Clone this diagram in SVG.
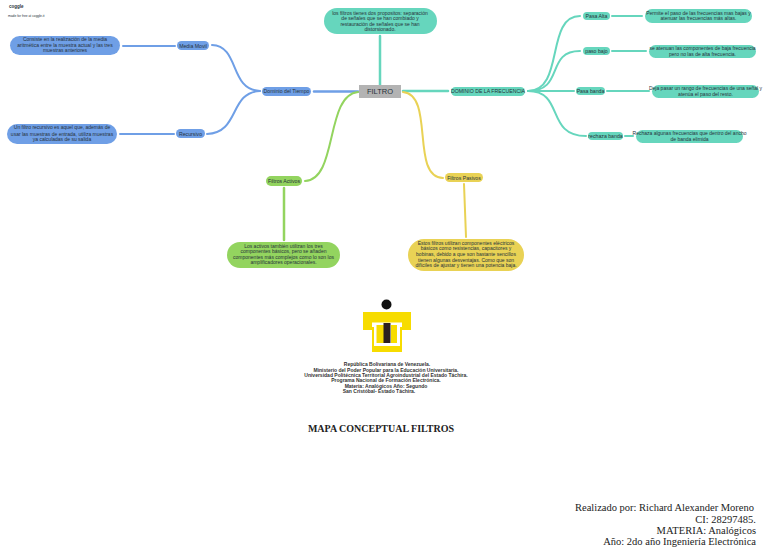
<svg xmlns="http://www.w3.org/2000/svg" width="768" height="560" viewBox="0 0 768 560">
<style>
text{font-family:"Liberation Sans",Arial,sans-serif;font-size:5px;fill:#27323a;text-anchor:middle}
.n{font-size:5.2px}
.bl{fill:#6f9fe6}.gr{fill:#66d6bd}.li{fill:#93d45f}.ye{fill:#e9d255}
.c{fill:none;stroke-linecap:round}
.h{font-size:5px;font-weight:bold;fill:#333}
.s{font-family:"Liberation Serif","Times New Roman",serif;fill:#222}
</style>
<rect width="768" height="560" fill="#fff"/>
<g id="connectors" class="c" stroke-width="2">
<g stroke="#6f9fe6">
<path d="M123 46H175"/><path d="M212 45C240 46 229 90 260 91"/>
<path d="M120 134H174"/><path d="M207 134C240 133 229 92 260 91"/>
<path d="M314 91.500H358" stroke-width="2.500"/>
</g>
<g stroke="#66d6bd">
<path d="M380 36V86" stroke-width="2.500"/>
<path d="M403 91H448" stroke-width="2.500"/>
<path d="M528 91C565 91 545 16 580 16"/>
<path d="M528 91C565 91 545 51 580 51"/>
<path d="M528 91H574"/>
<path d="M528 91C565 91 545 136 586 136"/>
<path d="M612 16H642"/><path d="M612 51H646"/><path d="M607 91H649"/><path d="M625 136H633"/>
</g>
<g stroke="#93d45f">
<path d="M358 92C325 95 338 180 305 181" stroke-width="2"/>
<path d="M284 188V240" stroke-width="2.500"/>
</g>
<g stroke="#e9d255">
<path d="M403 92C435 95 410 177 443 178" stroke-width="2"/>
<path d="M464 184L466 237" stroke-width="2"/>
</g>
</g>
<g id="header"><text x="9" y="8" text-anchor="start" style="text-anchor:start;font-size:4.500px;font-weight:bold">coggle</text><text x="8" y="16.500" style="text-anchor:start;font-size:3.300px">made for free at coggle.it</text></g>
<g id="filtro"><rect x="359" y="85" width="42" height="13" fill="#b3b3b3"/><text x="380" y="93.500" style="font-size:7.500px">FILTRO</text></g>
<g id="intro"><rect class="gr" x="324" y="8" width="113" height="26" rx="13"/><text x="380" y="14.500">los filtros tienes dos propositos: separación</text><text x="380" y="19.800">de señales que se han combiado y</text><text x="380" y="25.500">restauración de señales que se han</text><text x="380" y="30.500">distorsionado.</text></g>
<g id="dominio-tiempo"><rect class="bl" x="262" y="87" width="49" height="9" rx="4.500"/><text class="n" x="286.500" y="93">Dominio del Tiempo</text></g>
<g id="media-movil"><rect class="bl" x="177" y="41" width="32" height="9" rx="4.500"/><text class="n" x="193" y="47.500">Media Movil</text></g>
<g id="media-desc"><rect class="bl" x="10" y="36" width="110" height="19" rx="9.500"/><text x="65" y="41">Consiste en la realización de la media</text><text x="65" y="46.800">aritmética entre la muestra actual y las tres</text><text x="65" y="52">muestras anteriores</text></g>
<g id="recursivo"><rect class="bl" x="176" y="129" width="29" height="9" rx="4.500"/><text class="n" x="190.500" y="135.500">Recursivo</text></g>
<g id="recursivo-desc"><rect class="bl" x="7" y="124" width="110" height="20" rx="10"/><text x="62" y="129">Un filtro recursivo es aquel que, además de</text><text x="62" y="135.500">usar las muestras de entrada, utiliza muestras</text><text x="62" y="141">ya calculadas de su salida</text></g>
<g id="dominio-frecuencia"><rect class="gr" x="451" y="87" width="74" height="9" rx="4.500"/><text class="n" x="488" y="92.800">DOMINIO DE LA FRECUENCIA</text></g>
<g id="pasa-alta"><rect class="gr" x="583" y="12" width="27" height="8" rx="4"/><text class="n" x="596.500" y="18">Pasa Alta</text></g>
<g id="paso-bajo"><rect class="gr" x="583" y="47" width="27" height="8" rx="4"/><text class="n" x="596.500" y="52.800">paso bajo</text></g>
<g id="pasa-banda"><rect class="gr" x="576" y="87" width="29" height="8" rx="4"/><text class="n" x="590.500" y="92.800">Pasa banda</text></g>
<g id="rechaza-banda"><rect class="gr" x="588" y="132" width="35" height="8" rx="4"/><text class="n" x="605.500" y="137.800">rechaza banda</text></g>
<g id="alta-desc"><rect class="gr" x="645" y="9" width="107" height="14" rx="7"/><text x="698.500" y="14.500">Permite el paso de las frecuencias mas bajas y</text><text x="698.500" y="20">atenuar las frecuencias más altas.</text></g>
<g id="bajo-desc"><rect class="gr" x="649" y="45" width="107" height="13" rx="6.500"/><text x="702.500" y="50">se atenuan las componentes de baja frecuencia</text><text x="702.500" y="55.500">pero no las de alta frecuencia.</text></g>
<g id="banda-desc"><rect class="gr" x="652" y="85" width="107" height="13" rx="6.500"/><text x="705.500" y="90">Deja pasar un rango de frecuencias de una señal y</text><text x="705.500" y="95.500">atenúa el paso del resto.</text></g>
<g id="rechaza-desc"><rect class="gr" x="636" y="130" width="107" height="13" rx="6.500"/><text x="689.500" y="135">Rechaza algunas frecuencias que dentro del ancho</text><text x="689.500" y="140.500">de banda elimida</text></g>
<g id="filtros-activos"><rect class="li" x="266" y="176" width="36" height="10" rx="5"/><text class="n" x="284" y="182.800">Filtros Activos</text></g>
<g id="activos-desc"><rect class="li" x="227" y="242" width="113" height="26" rx="13"/><text x="283.500" y="248">Los activos también utilizan los tres</text><text x="283.500" y="253">componentes básicos, pero se añaden</text><text x="283.500" y="258.800">componentes más complejos como lo son los</text><text x="283.500" y="264.200">amplificadores operacionales.</text></g>
<g id="filtros-pasivos"><rect class="ye" x="445" y="173" width="38" height="9" rx="4.500"/><text class="n" x="464" y="179.500">Filtros Pasivos</text></g>
<g id="pasivos-desc"><rect class="ye" x="408" y="239" width="116" height="32" rx="16"/><text x="466" y="244.500">Estos filtros utilizan componentes eléctricos</text><text x="466" y="250.300">básicos como resistencias, capacitores y</text><text x="466" y="256">bobinas, debido a que son bastante sencillos</text><text x="466" y="261.500">tienen algunas desventajas. Como que son</text><text x="466" y="267">difíciles de ajustar y tienen una potencia baja.</text></g>
<g id="logo">
<ellipse cx="386.500" cy="304.500" rx="5" ry="5" fill="#111"/>
<path d="M363 312H411V330H402V352H372V330H363Z" fill="#f7dc00"/>
<path d="M372 322H402V330H399.500V345H374.500V330H372Z" fill="#fff" opacity="0"/>
<path d="M372 322.500H402V327H400V346H374V327H372Z" fill="#fff"/>
<path d="M376.500 325H397V343H376.500Z" fill="#f7dc00"/>
<rect x="384" y="323" width="7" height="21" fill="#fff"/>
<rect x="383.500" y="323" width="7" height="20" fill="#2b2020"/>
</g>
<g id="institution" class="h">
<text class="h" x="387" y="366">República Bolivariana de Venezuela.</text>
<text class="h" x="386" y="371.500">Ministerio del Poder Popular para la Educación Universitaria.</text>
<text class="h" x="386" y="376.800">Universidad Politécnica Territorial Agroindustrial del Estado Táchira.</text>
<text class="h" x="386" y="382.300">Programa Nacional de Formación Electrónica.</text>
<text class="h" x="386" y="387.500">Materia: Analógicos  Año: Segundo</text>
<text class="h" x="379" y="393">San Cristóbal- Estado Táchira.</text>
</g>
<text class="s" x="381" y="432" style="font-size:10px;font-weight:bold">MAPA CONCEPTUAL FILTROS</text>
<g id="author" class="s" style="font-size:10px">
<text class="s" x="754" y="511" style="font-size:10.500px;text-anchor:end">Realizado por: Richard Alexander Moreno</text>
<text class="s" x="756" y="522.500" style="font-size:10.500px;text-anchor:end">CI: 28297485.</text>
<text class="s" x="756" y="534" style="font-size:10.500px;text-anchor:end">MATERIA:  Analógicos</text>
<text class="s" x="756" y="545" style="font-size:10.500px;text-anchor:end">Año: 2do año Ingeniería Electrónica</text>
</g>
</svg>
